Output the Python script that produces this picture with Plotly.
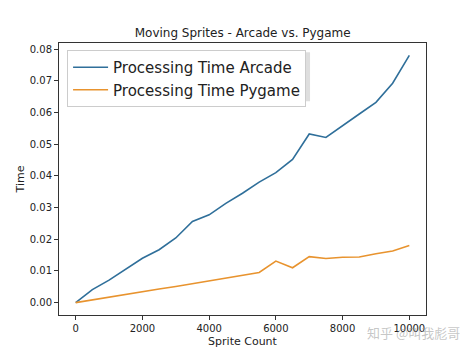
import plotly.graph_objects as go

sprite_count = [0, 500, 1000, 1500, 2000, 2500, 3000, 3500, 4000, 4500, 5000,
                5500, 6000, 6500, 7000, 7500, 8000, 8500, 9000, 9500, 10000]
arcade_time = [0.0, 0.0041, 0.0071, 0.0106, 0.0140, 0.0167, 0.0204, 0.0256, 0.0277,
               0.0313, 0.0345, 0.0380, 0.0410, 0.0452, 0.0532, 0.0521, 0.0557,
               0.0595, 0.0632, 0.0692, 0.0780]
pygame_time = [0.0, 0.0009, 0.0017, 0.0026, 0.0035, 0.0043, 0.0051, 0.0060, 0.0068,
               0.0077, 0.0086, 0.0095, 0.0131, 0.0110, 0.0145, 0.0139, 0.0143,
               0.0144, 0.0154, 0.0163, 0.0180]
y_ticks = [0.00, 0.01, 0.02, 0.03, 0.04, 0.05, 0.06, 0.07, 0.08]
x_ticks = [0, 2000, 4000, 6000, 8000, 10000]

font = "DejaVu Sans"
fig = go.Figure()
fig.add_trace(go.Scatter(x=sprite_count, y=arcade_time, mode="lines",
                         name="Processing Time Arcade",
                         line=dict(color="#2f6f9a", width=1.6)))
fig.add_trace(go.Scatter(x=sprite_count, y=pygame_time, mode="lines",
                         name="Processing Time Pygame",
                         line=dict(color="#e8932e", width=1.6)))

# legend drop shadow (offset down-right)
fig.add_shape(type="rect", xref="paper", yref="paper",
              x0=0.030, x1=0.684, y0=0.786, y1=0.966,
              fillcolor="rgba(0,0,0,0.13)", line=dict(width=0), layer="above")

fig.update_layout(
    width=474, height=355,
    margin=dict(l=59, r=48, t=43, b=40, autoexpand=False),
    paper_bgcolor="white", plot_bgcolor="white",
    font=dict(family=font, color="#222222", size=10),
    title=dict(text="Moving Sprites - Arcade vs. Pygame", x=0.512, xanchor="center",
               xref="container", yref="container",
               y=1 - 33 / 355, yanchor="middle", font=dict(size=12, family=font)),
    showlegend=True,
    legend=dict(x=0.022, y=0.974, xanchor="left", yanchor="top",
                bgcolor="white", bordercolor="#cccccc", borderwidth=1,
                font=dict(size=15, family=font, color="#222222"),
                itemwidth=35, tracegroupgap=0),
    xaxis=dict(range=[-500, 10500], tickvals=x_ticks,
               ticktext=[str(v) for v in x_ticks], automargin=False,
               showgrid=False, zeroline=False, showline=True, mirror=True,
               linecolor="#333333", linewidth=1, ticks="outside", ticklen=4,
               tickcolor="#333333",
               title=dict(text="Sprite Count", standoff=4, font=dict(size=11))),
    yaxis=dict(range=[-0.0039, 0.0819], tickvals=y_ticks,
               ticktext=[f"{v:.2f}" for v in y_ticks], automargin=False,
               showgrid=False, zeroline=False, showline=True, mirror=True,
               linecolor="#333333", linewidth=1, ticks="outside", ticklen=4,
               tickcolor="#333333",
               title=dict(text="Time", standoff=2, font=dict(size=11))),
)

fig.add_annotation(text="知乎 @叫我彪哥", xref="paper", yref="paper",
                   x=1.098, y=-0.066, xanchor="right", yanchor="middle",
                   showarrow=False,
                   font=dict(family="Noto Sans CJK SC", size=13,
                             color="rgba(150,150,150,0.55)"))

fig.write_html("out.html", config={"displayModeBar": False},
               post_script="document.body.style.margin='0';document.body.style.overflow='hidden';")
